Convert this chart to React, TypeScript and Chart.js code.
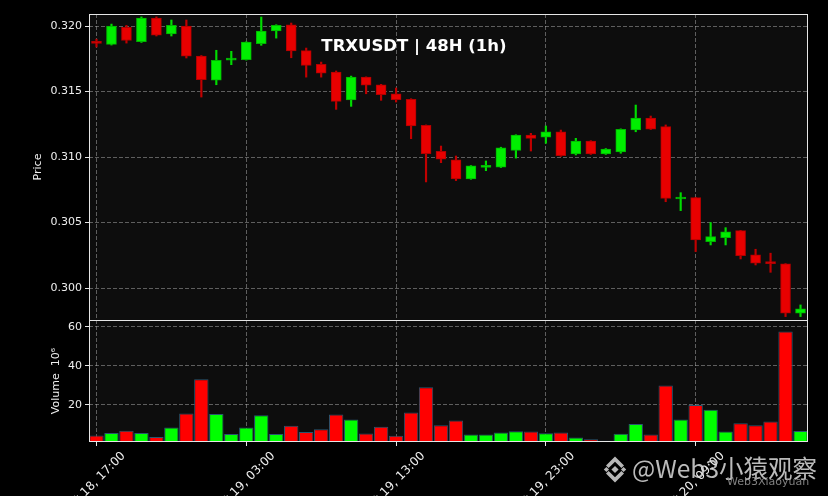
import React, { useEffect, useRef } from 'react';
import { Chart, registerables } from 'chart.js';

Chart.register(...registerables);

const labels: string[] = [
  'Oct 18, 17:00', 'Oct 18, 18:00', 'Oct 18, 19:00', 'Oct 18, 20:00', 'Oct 18, 21:00', 'Oct 18, 22:00', 'Oct 18, 23:00',
  'Oct 19, 00:00', 'Oct 19, 01:00', 'Oct 19, 02:00', 'Oct 19, 03:00', 'Oct 19, 04:00', 'Oct 19, 05:00', 'Oct 19, 06:00',
  'Oct 19, 07:00', 'Oct 19, 08:00', 'Oct 19, 09:00', 'Oct 19, 10:00', 'Oct 19, 11:00', 'Oct 19, 12:00', 'Oct 19, 13:00',
  'Oct 19, 14:00', 'Oct 19, 15:00', 'Oct 19, 16:00', 'Oct 19, 17:00', 'Oct 19, 18:00', 'Oct 19, 19:00', 'Oct 19, 20:00',
  'Oct 19, 21:00', 'Oct 19, 22:00', 'Oct 19, 23:00', 'Oct 20, 00:00', 'Oct 20, 01:00', 'Oct 20, 02:00', 'Oct 20, 03:00',
  'Oct 20, 04:00', 'Oct 20, 05:00', 'Oct 20, 06:00', 'Oct 20, 07:00', 'Oct 20, 08:00', 'Oct 20, 09:00', 'Oct 20, 10:00',
  'Oct 20, 11:00', 'Oct 20, 12:00', 'Oct 20, 13:00', 'Oct 20, 14:00', 'Oct 20, 15:00', 'Oct 20, 16:00',
];

const opens: number[] = [
  0.31870, 0.31860, 0.31990, 0.31880, 0.32060, 0.31940, 0.32000, 0.31770, 0.31586, 0.31740,
  0.31743, 0.31865, 0.31962, 0.32010, 0.31812, 0.31708, 0.31649, 0.31437, 0.31610, 0.31552,
  0.31483, 0.31440, 0.31242, 0.31044, 0.30978, 0.30833, 0.30920, 0.30922, 0.31051, 0.31168,
  0.31151, 0.31193, 0.31023, 0.31122, 0.31023, 0.31040, 0.31207, 0.31298, 0.31232, 0.30680,
  0.30690, 0.30354, 0.30385, 0.30438, 0.30253, 0.30192, 0.30184, 0.29808,
];
const highs: number[] = [
  0.31900, 0.32015, 0.32005, 0.32070, 0.32070, 0.32046, 0.32046, 0.31775, 0.31815, 0.31807,
  0.31880, 0.32069, 0.32010, 0.32023, 0.31832, 0.31725, 0.31657, 0.31618, 0.31612, 0.31555,
  0.31527, 0.31445, 0.31245, 0.31084, 0.31008, 0.30935, 0.30970, 0.31075, 0.31170, 0.31181,
  0.31237, 0.31206, 0.31143, 0.31125, 0.31065, 0.31215, 0.31397, 0.31313, 0.31245, 0.30728,
  0.30692, 0.30500, 0.30461, 0.30440, 0.30296, 0.30266, 0.30186, 0.29871,
];
const lows: number[] = [
  0.31840, 0.31855, 0.31870, 0.31875, 0.31924, 0.31924, 0.31756, 0.31458, 0.31552, 0.31705,
  0.31740, 0.31853, 0.31908, 0.31758, 0.31610, 0.31610, 0.31364, 0.31387, 0.31483, 0.31433,
  0.31420, 0.31140, 0.30810, 0.30957, 0.30820, 0.30830, 0.30896, 0.30920, 0.30992, 0.31046,
  0.31105, 0.31005, 0.31016, 0.31020, 0.31020, 0.31029, 0.31193, 0.31210, 0.30659, 0.30591,
  0.30278, 0.30329, 0.30329, 0.30222, 0.30176, 0.30120, 0.29782, 0.29782,
];
const closes: number[] = [
  0.31868, 0.32000, 0.31890, 0.32060, 0.31930, 0.32005, 0.31770, 0.31590, 0.31738, 0.31745,
  0.31878, 0.31962, 0.32005, 0.31810, 0.31700, 0.31641, 0.31425, 0.31611, 0.31548, 0.31476,
  0.31438, 0.31237, 0.31026, 0.30983, 0.30833, 0.30932, 0.30937, 0.31071, 0.31168, 0.31143,
  0.31193, 0.31010, 0.31122, 0.31023, 0.31061, 0.31212, 0.31298, 0.31212, 0.30685, 0.30688,
  0.30367, 0.30392, 0.30430, 0.30247, 0.30189, 0.30186, 0.29808, 0.29841,
];
// volume in millions (10^6)
const volumes: number[] = [
  4.2, 5.4, 6.6, 5.4, 3.4, 8.3, 15.5, 33.0, 15.2, 4.9,
  8.3, 14.5, 4.9, 9.2, 5.9, 7.3, 14.9, 12.3, 5.2, 8.7,
  4.0, 15.9, 28.9, 9.4, 11.9, 4.6, 4.6, 5.7, 6.3, 6.2,
  5.3, 5.7, 3.1, 2.2, 1.5, 5.1, 10.1, 4.6, 29.8, 12.3,
  19.8, 17.4, 6.2, 10.4, 9.4, 11.3, 57.6, 6.5,
];

const titleText = 'TRXUSDT | 48H (1h)';
const priceLabel = 'Price';
const volumeLabel = 'Volume  10\u2076';
const watermark = '@Web3小猿观察';
const watermarkSub = 'Web3Xiaoyuan';

const FONT = '"DejaVu Sans", sans-serif';

export default function App() {
  const ref = useRef<HTMLCanvasElement>(null);

  useEffect(() => {
    document.body.style.margin = '0';
    document.body.style.background = '#000';
    const canvas = ref.current!;
    const up = closes.map((c, i) => c >= opens[i]);

    const decorPlugin = {
      id: 'decor',
      beforeDraw(chart: any) {
        const { ctx, chartArea } = chart;
        ctx.save();
        ctx.fillStyle = '#000';
        ctx.fillRect(0, 0, chart.width, chart.height);
        ctx.fillStyle = '#0d0d0d';
        ctx.fillRect(chartArea.left, chartArea.top, chartArea.right - chartArea.left, chartArea.bottom - chartArea.top);
        ctx.restore();
      },
      afterDraw(chart: any) {
        const { ctx, chartArea } = chart;
        const yP = chart.scales.y;
        const yV = chart.scales.yv;
        ctx.save();
        // spines
        ctx.strokeStyle = '#e6e6e6';
        ctx.lineWidth = 1;
        const l = Math.round(chartArea.left) + 0.5;
        const r = Math.round(chartArea.right) - 0.5;
        ctx.strokeRect(l, Math.round(yP.top) + 0.5, r - l, Math.round(yP.bottom) - Math.round(yP.top));
        ctx.strokeRect(l, Math.round(yV.top) + 0.5, r - l, Math.round(yV.bottom) - Math.round(yV.top) - 1);

        // title
        ctx.fillStyle = '#ffffff';
        ctx.font = 'bold 16.5px ' + FONT;
        ctx.textAlign = 'center';
        ctx.textBaseline = 'alphabetic';
        ctx.fillText(titleText, 414, 51);

        // axis labels
        ctx.font = '11px ' + FONT;
        ctx.fillStyle = '#eeeeee';
        ctx.textBaseline = 'middle';
        ctx.save();
        ctx.translate(38.5, (yP.top + yP.bottom) / 2);
        ctx.rotate(-Math.PI / 2);
        ctx.fillText(priceLabel, 0, 0);
        ctx.restore();
        ctx.save();
        ctx.translate(56, (yV.top + yV.bottom) / 2);
        ctx.rotate(-Math.PI / 2);
        ctx.fillText(volumeLabel, 0, 0);
        ctx.restore();

        // watermark logo
        const cx = 615, cy = 469.5;
        ctx.fillStyle = 'rgba(215,215,215,0.85)';
        const diamond = (x: number, y: number, h: number) => {
          ctx.beginPath();
          ctx.moveTo(x, y - h); ctx.lineTo(x + h, y); ctx.lineTo(x, y + h); ctx.lineTo(x - h, y);
          ctx.closePath(); ctx.fill();
        };
        diamond(cx, cy, 3.6);
        diamond(cx - 8.6, cy, 2.6);
        diamond(cx + 8.6, cy, 2.6);
        const chevron = (dir: number) => {
          ctx.beginPath();
          ctx.moveTo(cx, cy - dir * 13);
          ctx.lineTo(cx + 9, cy - dir * 4);
          ctx.lineTo(cx + 6.4, cy - dir * 1.4);
          ctx.lineTo(cx, cy - dir * 7.8);
          ctx.lineTo(cx - 6.4, cy - dir * 1.4);
          ctx.lineTo(cx - 9, cy - dir * 4);
          ctx.closePath();
          ctx.fill();
        };
        chevron(1);
        chevron(-1);

        ctx.textAlign = 'left';
        ctx.textBaseline = 'alphabetic';
        ctx.font = '24.5px "Noto Sans CJK SC", "DejaVu Sans", sans-serif';
        ctx.fillStyle = 'rgba(220,220,220,0.85)';
        ctx.fillText(watermark, 632, 478);
        ctx.font = '11px "DejaVu Sans", sans-serif';
        ctx.fillStyle = 'rgba(150,150,150,0.85)';
        ctx.fillText(watermarkSub, 727, 485);
        ctx.restore();
      },
    };

    const gridCommon = {
      color: 'rgba(200,200,200,0.55)',
      lineWidth: 0.8,
      tickColor: '#e6e6e6',
      tickLength: 4,
      tickWidth: 1,
      tickBorderDash: [],
    };

    const chart = new Chart(canvas, {
      type: 'bar',
      data: {
        labels,
        datasets: [
          {
            label: 'body',
            data: opens.map((o, i) => [o, closes[i]]) as any,
            yAxisID: 'y',
            backgroundColor: up.map((u) => (u ? '#00ee00' : '#e80000')),
            borderColor: up.map((u) => (u ? '#00b400' : '#b00000')),
            borderWidth: 1,
            borderSkipped: false,
            barThickness: 10,
            minBarLength: 2,
            grouped: false,
            order: 0,
          },
          {
            label: 'wick',
            data: lows.map((lo, i) => [lo, highs[i]]) as any,
            yAxisID: 'y',
            backgroundColor: up.map((u) => (u ? '#00dd00' : '#c00000')),
            borderWidth: 0,
            barThickness: 1.5,
            grouped: false,
            order: 1,
          },
          {
            label: 'volume',
            data: volumes,
            yAxisID: 'yv',
            backgroundColor: up.map((u) => (u ? '#00ff00' : '#ff0000')),
            borderColor: '#2a5670',
            borderWidth: 1,
            barPercentage: 1,
            categoryPercentage: 0.96,
            grouped: false,
            order: 2,
          },
        ],
      },
      options: {
        responsive: false,
        animation: false,
        events: [],
        layout: { padding: { left: 0, right: 20, top: 14, bottom: 0 } },
        plugins: { legend: { display: false }, tooltip: { enabled: false }, title: { display: false } },
        scales: {
          x: {
            type: 'category',
            offset: true,
            grid: { ...gridCommon, offset: false },
            border: { display: false, dash: [4, 2] },
            ticks: {
              autoSkip: false,
              minRotation: 45,
              maxRotation: 45,
              color: '#eeeeee',
              font: { family: 'DejaVu Sans', size: 12 },
              padding: 3,
              labelOffset: 27,
            },
            afterBuildTicks: (scale: any) => {
              scale.ticks = scale.ticks.filter((t: any) => t.value % 10 === 0);
            },
            afterFit: (scale: any) => {
              scale.height = 54;
            },
          },
          yv: {
            type: 'linear',
            position: 'left',
            stack: 'panels',
            stackWeight: 122,
            weight: 0,
            min: 0.8,
            max: 63.5,
            grid: { ...gridCommon },
            border: { display: false, dash: [4, 2] },
            ticks: {
              stepSize: 20,
              includeBounds: false,
              color: '#eeeeee',
              font: { family: 'DejaVu Sans', size: 11 },
              padding: 3,
              callback: (v: any) => String(v),
            },
            afterFit: (scale: any) => {
              scale.width = 89;
            },
          },
          y: {
            type: 'linear',
            position: 'left',
            stack: 'panels',
            stackWeight: 306,
            weight: 1,
            min: 0.29756,
            max: 0.32092,
            grid: { ...gridCommon },
            border: { display: false, dash: [4, 2] },
            ticks: {
              stepSize: 0.005,
              includeBounds: false,
              color: '#eeeeee',
              font: { family: 'DejaVu Sans', size: 11 },
              padding: 3,
              callback: (v: any) => Number(v).toFixed(3),
            },
            afterFit: (scale: any) => {
              scale.width = 89;
            },
          },
        },
      } as any,
      plugins: [decorPlugin],
    });

    return () => chart.destroy();
  }, []);

  return (
    <div style={{ width: 828, height: 496, background: '#000', overflow: 'hidden' }}>
      <canvas ref={ref} width={828} height={496} style={{ display: 'block', width: 828, height: 496 }} />
    </div>
  );
}
